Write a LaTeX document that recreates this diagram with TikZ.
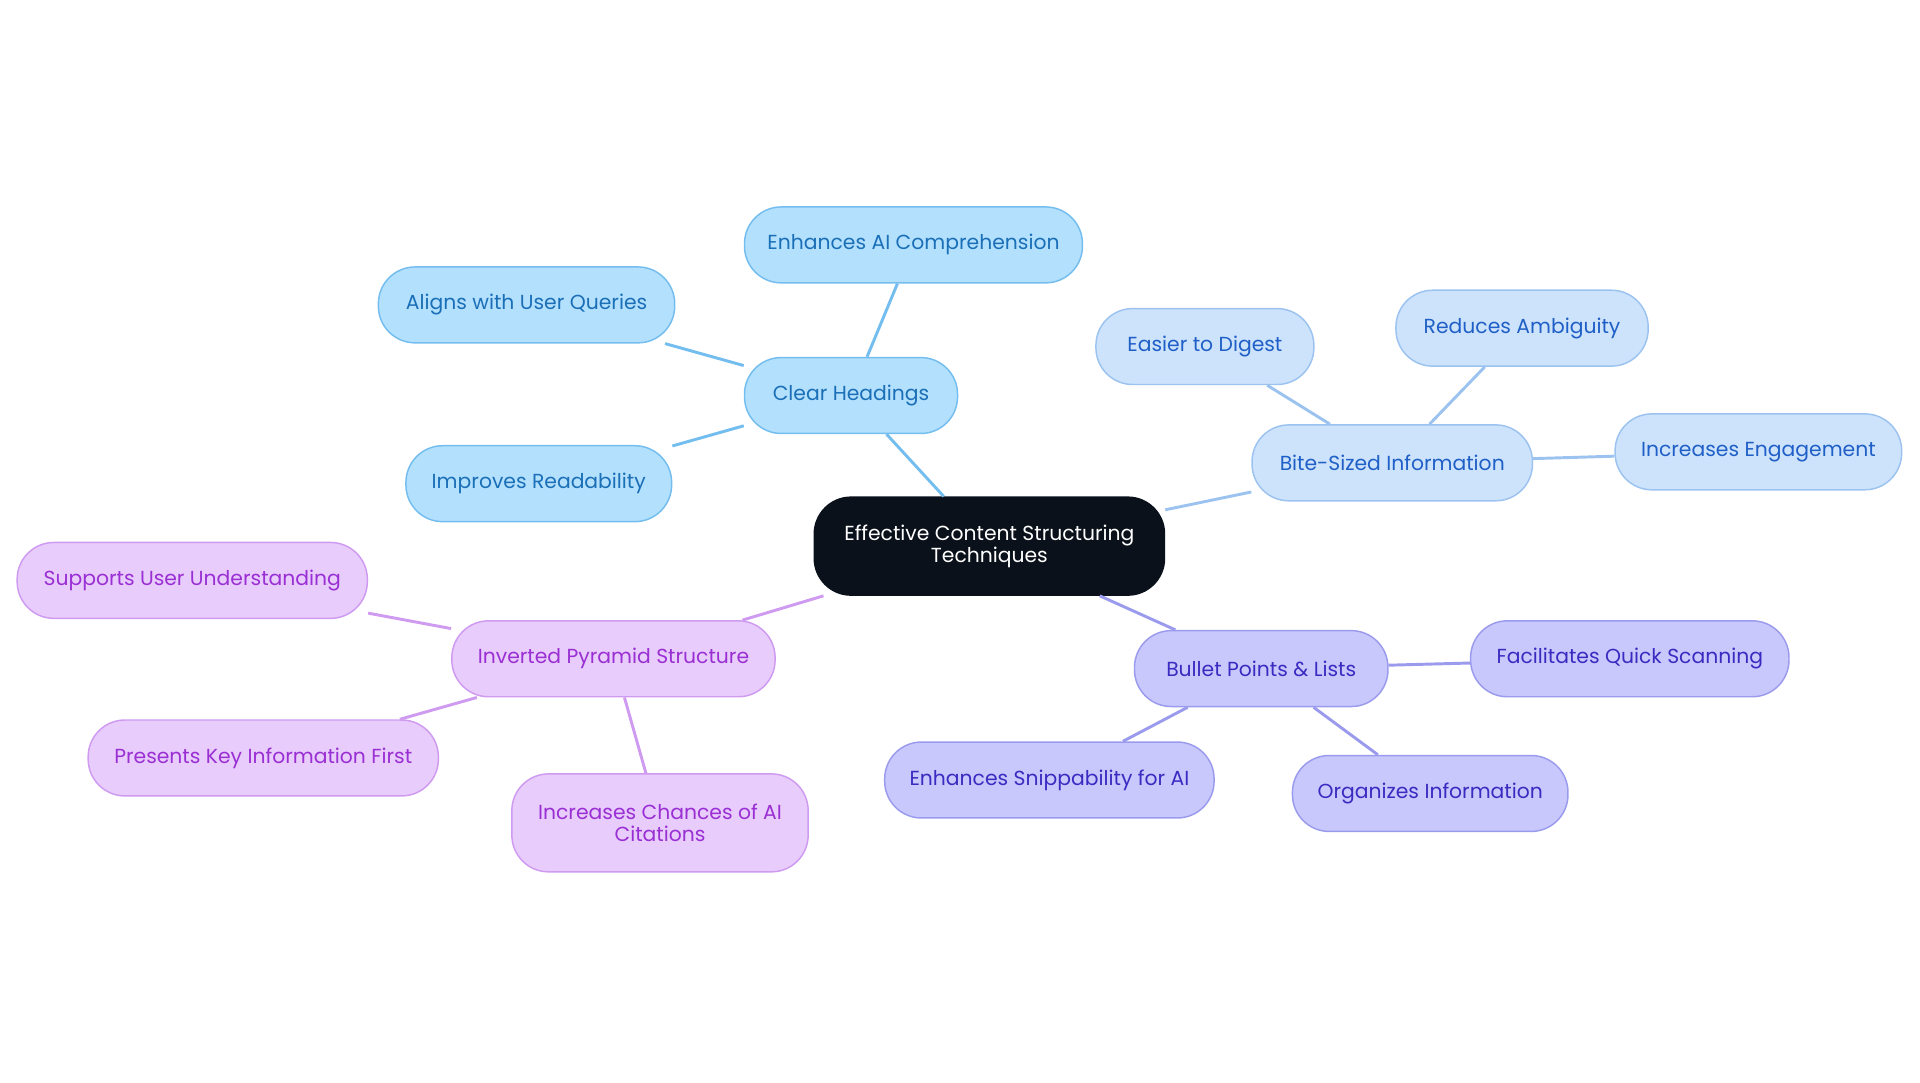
\documentclass[tikz,border=0pt]{standalone}
\usepackage{fontspec}
\setmainfont{Poppins}
\begin{document}
\begin{tikzpicture}[x=0.5pt,y=-0.5pt,
  base/.style={draw,line width=0.6pt,rounded corners=15pt,align=center,inner sep=0pt,font=\fontsize{8.3}{9}\selectfont},
  cb/.style={base,fill=cbF,draw=cbD,text=cbT},
  lb/.style={base,fill=lbF,draw=lbD,text=lbT},
  lv/.style={base,fill=lvF,draw=lvD,text=lvT},
  pu/.style={base,fill=puF,draw=puD,text=puT},
  ln/.style={line width=1.2pt}]
\definecolor{cbF}{HTML}{B3E0FD}\definecolor{cbD}{HTML}{74BDEF}\definecolor{cbT}{HTML}{1A6FB7}
\definecolor{lbF}{HTML}{CCE3FB}\definecolor{lbD}{HTML}{9CC3F0}\definecolor{lbT}{HTML}{1F5FC7}
\definecolor{lvF}{HTML}{C8C8FC}\definecolor{lvD}{HTML}{9B9BEE}\definecolor{lvT}{HTML}{3A2BC1}
\definecolor{puF}{HTML}{E8CCFC}\definecolor{puD}{HTML}{CF9BF0}\definecolor{puT}{HTML}{9A2FD3}
\definecolor{ctr}{HTML}{0B111A}
\useasboundingbox (0,0) rectangle (1568,884);
\newcommand\nd[6]{\node[#1,minimum width=#4*0.5pt,minimum height=#5*0.5pt] (#2) at #3 {#6};}
\nd{base,fill=ctr,draw=ctr,text=white}{c}{(808,446)}{286}{80}{Effective Content Structuring\\Techniques}
\nd{cb}{ch}{(695,323)}{174}{62}{Clear Headings}
\nd{cb}{ch1}{(746,200)}{276}{62}{Enhances AI Comprehension}
\nd{cb}{ch2}{(430,249)}{242}{62}{Aligns with User Queries}
\nd{cb}{ch3}{(440,395)}{217}{62}{Improves Readability}
\nd{lb}{bs}{(1137,378)}{229}{62}{Bite-Sized Information}
\nd{lb}{bs1}{(984,283)}{178}{62}{Easier to Digest}
\nd{lb}{bs2}{(1243,268)}{206}{62}{Reduces Ambiguity}
\nd{lb}{bs3}{(1436,369)}{234}{62}{Increases Engagement}
\nd{lv}{bp}{(1030,546)}{207}{62}{Bullet Points \& Lists}
\nd{lv}{bp1}{(1331,538)}{260}{62}{Facilitates Quick Scanning}
\nd{lv}{bp2}{(857,637)}{269}{62}{Enhances Snippability for AI}
\nd{lv}{bp3}{(1168,648)}{225}{62}{Organizes Information}
\nd{pu}{ip}{(501,538)}{264}{62}{Inverted Pyramid Structure}
\nd{pu}{ip1}{(157,474)}{286}{62}{Supports User Understanding}
\nd{pu}{ip2}{(215,619)}{286}{62}{Presents Key Information First}
\nd{pu}{ip3}{(539,672)}{242}{80}{Increases Chances of AI\\Citations}
\draw[ln,cbD] (c) -- (ch); \draw[ln,cbD] (ch) -- (ch1); \draw[ln,cbD] (ch) -- (ch2); \draw[ln,cbD] (ch) -- (ch3);
\draw[ln,lbD] (c) -- (bs); \draw[ln,lbD] (bs) -- (bs1); \draw[ln,lbD] (bs) -- (bs2); \draw[ln,lbD] (bs) -- (bs3);
\draw[ln,lvD] (c) -- (bp); \draw[ln,lvD] (bp) -- (bp1); \draw[ln,lvD] (bp) -- (bp2); \draw[ln,lvD] (bp) -- (bp3);
\draw[ln,puD] (c) -- (ip); \draw[ln,puD] (ip) -- (ip1); \draw[ln,puD] (ip) -- (ip2); \draw[ln,puD] (ip) -- (ip3);
\end{tikzpicture}
\end{document}
